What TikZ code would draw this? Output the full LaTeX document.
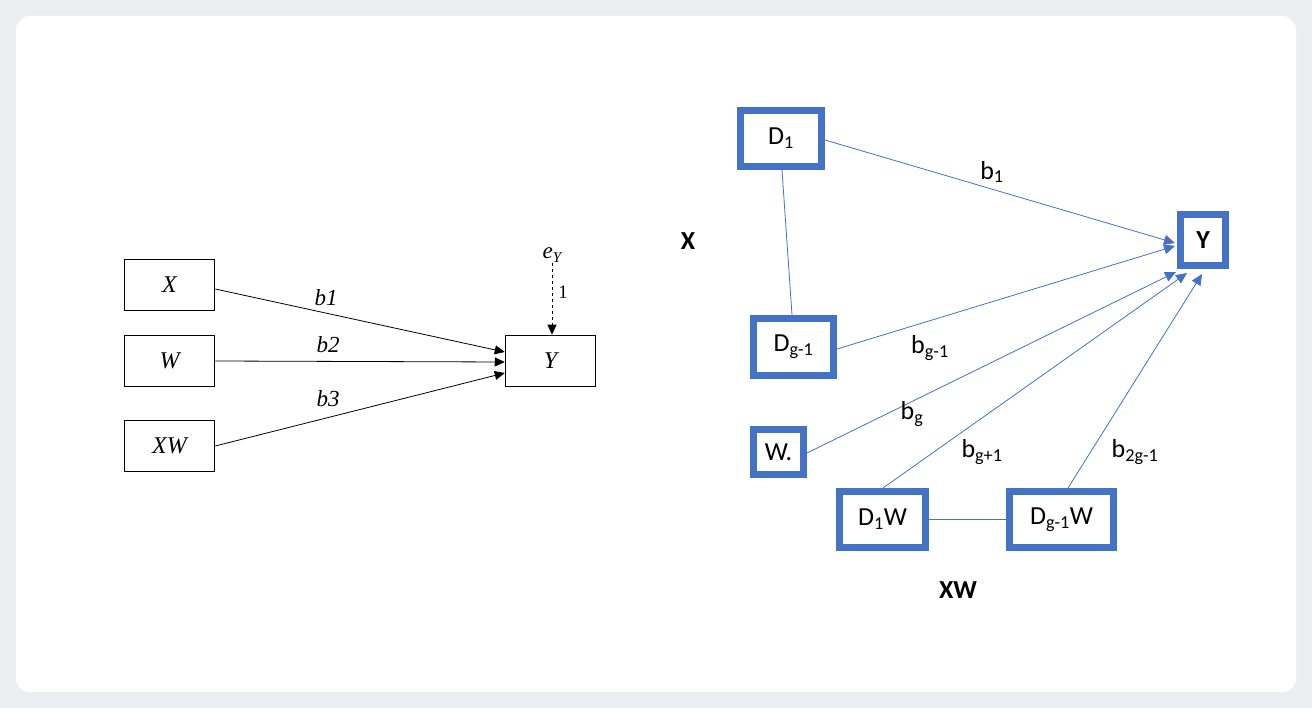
\documentclass[tikz,border=0pt]{standalone}
\usepackage{fontspec}
\setmainfont{Liberation Serif}
\newfontfamily\carl{Carlito}
\usetikzlibrary{arrows.meta}
\definecolor{bb}{HTML}{4472C4}
\begin{document}
\begin{tikzpicture}[x=1pt,y=-1pt,
 lb/.style={draw,line width=1.5pt,minimum width=90pt,minimum height=51pt,inner sep=0pt,font=\fontsize{24}{28}\selectfont\itshape},
 la/.style={line width=0.8pt,-{Triangle[length=10pt,width=9pt]}},
 ll/.style={font=\fontsize{23}{26}\selectfont\itshape},
 bx/.style={draw=bb,line width=7pt,inner sep=0pt,font=\carl\fontsize{26}{30}\selectfont},
 ba/.style={draw=bb,line width=0.8pt,-{Triangle[length=11pt,width=10pt]}},
 bl/.style={font=\carl\fontsize{26}{30}\selectfont}]
\fill[fill={rgb,255:red,236;green,237;blue,241}] (0,0) rectangle (1312,708);
\fill[white,rounded corners=14pt] (16,16) rectangle (1296,692);
\useasboundingbox (0,0) rectangle (1312,708);
% left
\node[lb] (X) at (169.5,285) {X};
\node[lb] (W) at (169.5,361) {W};
\node[lb] (XW) at (169.5,446) {XW};
\node[lb] (Y) at (550.5,361) {Y};
\node[ll,inner sep=1pt] (e) at (552,255) {e\raisebox{-0.3ex}{\fontsize{15}{16}\selectfont Y}};
\draw[la] (X.east |- 0,289) -- (Y.west |- 0,352);
\draw[la] (W.east) -- (Y.west |- 0,362);
\draw[la] (XW.east) -- (Y.west |- 0,373);
\draw[la,dashed] (e.south) -- (Y.north -| e.south);
\node[font=\fontsize{19}{22}\selectfont] at (563,292) {1};
\node[ll] at (326,298) {b1};
\node[ll] at (328,345) {b2};
\node[ll] at (328,399) {b3};
% right
\node[bx,minimum width=81pt,minimum height=56pt] (D1) at (781,138.5) {D\textsubscript{1}};
\node[bx,minimum width=80pt,minimum height=57pt] (Dg) at (793.5,347) {D\textsubscript{g-1}};
\node[bx,minimum width=50pt,minimum height=45pt] (Wd) at (778.5,452) {W.};
\node[bx,minimum width=86pt,minimum height=56pt] (D1W) at (882.5,519.5) {D\textsubscript{1}W};
\node[bx,minimum width=104pt,minimum height=56pt] (DgW) at (1061.5,519.5) {D\textsubscript{g-1}W};
\node[bx,minimum width=45pt,minimum height=51pt,font=\carl\bfseries\fontsize{26}{30}\selectfont] (Yr) at (1203,240) {Y};
\draw[bb,line width=0.8pt] (D1.south -| 782,0) -- (Dg.north -| 792,0);
\draw[bb,line width=0.8pt] (D1W.east) -- (DgW.west);
\coordinate (t1) at (1175,243);
\coordinate (t2) at (1175,246);
\coordinate (t3) at (1176,272);
\coordinate (t4) at (1187,273);
\coordinate (t5) at (1202,274);
\draw[ba] (D1.east |- 0,140) -- (t1);
\draw[ba] (Dg.east |- 0,349) -- (t2);
\draw[ba] (Wd.east |- 0,453) -- (t3);
\draw[ba] (D1W.north -| 883,0) -- (t4);
\draw[ba] (DgW.north -| 1068,0) -- (t5);
\node[bl] at (992,172) {b\textsubscript{1}};
\node[bl] at (930,348) {b\textsubscript{g-1}};
\node[bl] at (912,414) {b\textsubscript{g}};
\node[bl] at (982,452) {b\textsubscript{g+1}};
\node[bl] at (1135,452) {b\textsubscript{2g-1}};
\node[bl,font=\carl\bfseries\fontsize{26}{30}\selectfont] at (688,241) {X};
\node[bl,font=\carl\bfseries\fontsize{26}{30}\selectfont] at (958,590) {XW};
\end{tikzpicture}
\end{document}
